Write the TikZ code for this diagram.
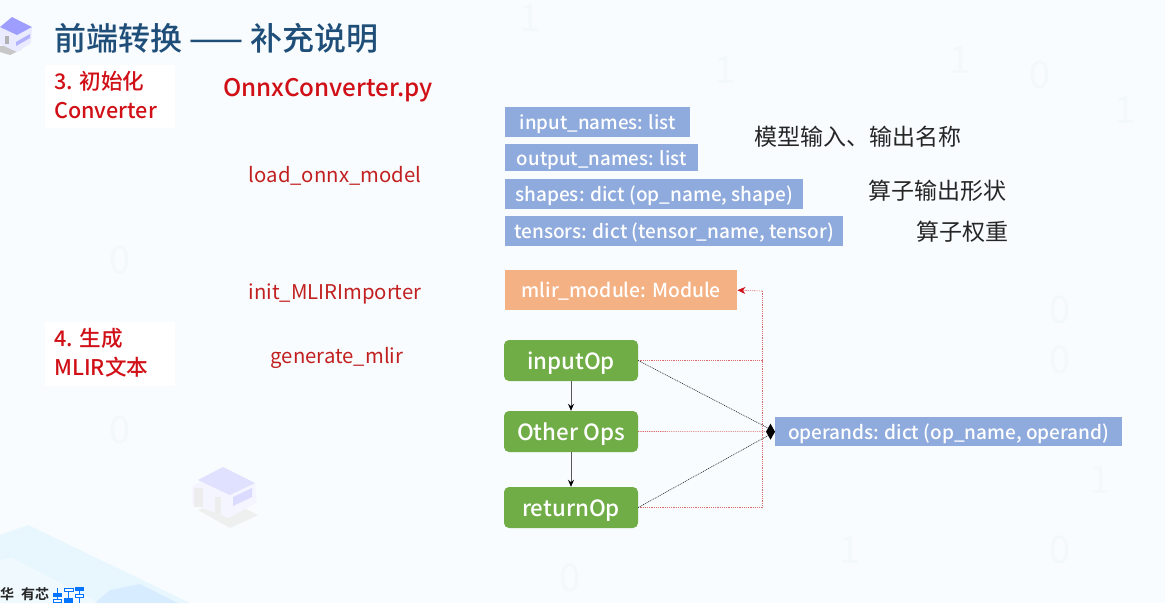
\documentclass[tikz,border=0pt]{standalone}
\usepackage{fontspec}
\setmainfont{Noto Sans CJK SC Medium}
\newfontfamily\plainfont{Noto Sans CJK SC}
\newfontfamily\boldfont{Noto Sans CJK SC Bold}
\usetikzlibrary{arrows.meta,calc}
\definecolor{bgc}{HTML}{F8FCFE}
\definecolor{bluebox}{HTML}{8FAADC}
\definecolor{orangebox}{HTML}{F4B183}
\definecolor{greenbox}{HTML}{70AD47}
\definecolor{titleblue}{HTML}{1F4E79}
\definecolor{redtxt}{HTML}{C22020}
\definecolor{redhead}{HTML}{D00F16}
\definecolor{linered}{HTML}{D86A6A}
\definecolor{digit}{HTML}{F3F8FB}
\newcommand\lowtxt[2][-7.5pt]{\raisebox{#1}[0pt][0pt]{#2}}
\tikzset{
  bluetag/.style={fill=bluebox,text=white,font=\fontsize{19}{22}\selectfont,inner sep=0pt,anchor=north west},
  greenop/.style={fill=greenbox,text=white,rounded corners=5pt,minimum width=134pt,minimum height=41pt,inner sep=0pt,font=\fontsize{22.3}{24}\selectfont},
  redlabel/.style={text=redtxt,font=\plainfont\fontsize{20.3}{24}\selectfont,inner sep=0pt},
  note/.style={text=black!85,font=\plainfont\fontsize{23}{26}\selectfont,inner sep=0pt},
  heading/.style={text=redhead,font=\fontsize{21.6}{28}\selectfont,align=left,inner sep=0pt,anchor=west},
  whitepanel/.style={fill=white,draw=none,inner sep=0pt,anchor=north west},
  redlink/.style={draw=linered,dash pattern=on 1.2pt off 1pt,line width=0.6pt},
  blacklink/.style={draw=black!85,dash pattern=on 1pt off 0.9pt,line width=0.6pt},
  flow/.style={draw=black!65,line width=0.8pt,-{Stealth[length=7pt,width=6pt,black]}},
  digitmark/.style={text=digit,font=\plainfont\fontsize{38}{40}\selectfont,inner sep=0pt}
}
\begin{document}
\begin{tikzpicture}[x=1pt,y=-1pt]
\path[use as bounding box,fill=bgc] (0,0) rectangle (1165,603);
% faint background digits
\foreach \d/\xx/\yy in {1/530/18,0/120/260,0/120/430,0/1060/310,0/1060/360,1/1100/480,0/1060/550,1/850/550,0/570/578,0/1040/75,1/960/60,1/1125/110,1/725/70}{
  \node[digitmark] (mark\xx\yy) at (\xx,\yy) {\d};
}
% faint plate, bottom left
\fill[blue!35!cyan!20,opacity=.35] (0,535) -- (28,525) -- (190,603) -- (0,603) -- cycle;
\fill[white,opacity=.35] (0,560) -- (12,558) -- (100,603) -- (0,603) -- cycle;
\fill[blue!50!cyan!25,opacity=.4] (110,590) -- (140,584) -- (178,603) -- (95,603) -- cycle;
% cube, middle
\fill[black!8,opacity=.7] (198,510) -- (230,528) -- (258,515) -- (228,500) -- cycle;
\fill[blue!4] (192,487) -- (192,504) -- (229,518) -- (257,502) -- (255,483) -- (223,467) -- cycle;
\fill[blue!12] (198,480) -- (223,467) -- (255,483) -- (230,495) -- cycle;
\fill[black!7] (194,488) rectangle (203,507);
\fill[black!7] (215,497) rectangle (221,514);
\fill[blue!14] (233,497) -- (252,488) -- (252,497) -- (233,506) -- cycle;
% cube, top left
\fill[black!22] (0,46) -- (0,52) -- (10,55) -- (22,49) -- (17,44) -- cycle;
\fill[blue!8] (0,27) -- (17,35) -- (32,27) -- (31,43) -- (17,52) -- (0,44) -- cycle;
\fill[blue!38!white] (0,27) -- (12,17) -- (32,27) -- (17,35) -- cycle;
\fill[black!30] (5,36) rectangle (9,44);
\fill[blue!30] (16,42) -- (30,34) -- (30,38) -- (16,46) -- cycle;
\node[inner sep=0pt,text=titleblue,font=\fontsize{32}{36}\selectfont] (title) at (216.5,38) {前端转换 —— 补充说明};
\node[whitepanel,minimum width=130pt,minimum height=63pt] (panelA) at (45,65) {};
\node[whitepanel,minimum width=130pt,minimum height=64pt] (panelB) at (45,322) {};
\node[heading] (headA) at (54,98) {\begin{tabular}{@{}l@{}}3. 初始化\\[1pt]Converter\end{tabular}};
\node[heading] (headB) at (54,355) {\begin{tabular}{@{}l@{}}4. 生成\\[1pt]MLIR文本\end{tabular}};
\node[inner sep=0pt,text=redhead,font=\fontsize{24.2}{28}\selectfont] (file) at (328,90) {OnnxConverter.py};
\node[redlabel] (load) at (335,176) {load\_onnx\_model};
\node[redlabel] (init) at (335,294) {init\_MLIRImporter};
\node[redlabel] (gen) at (337,358) {generate\_mlir};
\node[bluetag,font=\fontsize{18.7}{22}\selectfont,minimum width=185pt,minimum height=30pt] (inames) at (505,107) {\lowtxt{input\_names: list}};
\node[bluetag,font=\fontsize{18.7}{22}\selectfont,minimum width=193pt,minimum height=27pt] (onames) at (505,144) {\lowtxt{output\_names: list}};
\node[bluetag,minimum width=298pt,minimum height=30pt] (shapes) at (505,179) {\lowtxt{shapes: dict (op\_name, shape)}};
\node[bluetag,minimum width=338pt,minimum height=30pt] (tensors) at (505,216) {\lowtxt{tensors: dict (tensor\_name, tensor)}};
\node[note] (n1) at (858,137) {模型输入、输出名称};
\node[note] (n2) at (937,191) {算子输出形状};
\node[note] (n3) at (962,232) {算子权重};
\node[anchor=north west,fill=orangebox,text=white,minimum width=232pt,minimum height=40pt,inner sep=0pt,font=\fontsize{19.3}{24}\selectfont] (mlir) at (505,270) {\lowtxt{mlir\_module: Module}};
\node[greenop] (iop) at (571,360.5) {\lowtxt[-8.5pt]{inputOp}};
\node[greenop] (oop) at (571,431.5) {\lowtxt[-8.5pt]{Other Ops}};
\node[greenop] (rop) at (571,507.5) {\lowtxt[-8.5pt]{returnOp}};
\node[bluetag,minimum width=347pt,minimum height=29pt] (operands) at (775,417) {\lowtxt{operands: dict (op\_name, operand)}};
\coordinate (jA) at (762,360.5);
\coordinate (jB) at (762,507.5);
\coordinate (jM) at (762,291);
\coordinate (dia) at (operands.west);
\draw[flow] (iop) -- (oop);
\draw[flow] (oop) -- (rop);
\draw[redlink] (iop.east) -- (jA);
\draw[redlink] (rop.east) -- (jB) -- (jA);
\draw[redlink] (jA) -- (jM);
\draw[redlink,-{Stealth[length=8pt,width=7pt,redhead]}] (jM) -- (mlir.east);
\draw[redlink] (oop.east) -- (dia);
\draw[blacklink] (iop.east) -- (dia);
\draw[blacklink] (rop.east) -- (dia);
\fill[black] ($(dia)+(-9,0)$) -- ($(dia)+(-4.5,-8)$) -- (dia) -- ($(dia)+(-4.5,8)$) -- cycle;
% logo fragment
\node[anchor=west,inner sep=0pt,text=black!85,font=\boldfont\fontsize{14}{14}\selectfont] (logo) at (0,594) {华\hspace{7pt}有芯};
\draw[blue!55!cyan,line width=1pt] (57,588) -- (57,603) (68,590) -- (68,603) (79,588) -- (79,603);
\fill[blue!55!cyan] (53,593) rectangle (62,597);
\draw[blue!55!cyan,fill=bgc,line width=.8pt] (53.5,599) rectangle (61,602.5);
\draw[blue!55!cyan,fill=bgc,line width=.8pt] (64,588) rectangle (73,591.5);
\fill[blue!55!cyan] (64,598) rectangle (73,603);
\fill[blue!55!cyan] (75,586.5) rectangle (84,591);
\draw[blue!55!cyan,fill=bgc,line width=.8pt] (75.5,594) rectangle (83.5,597);
\end{tikzpicture}
\end{document}
